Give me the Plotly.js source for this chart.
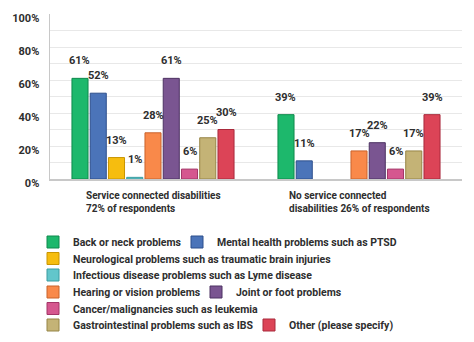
<!DOCTYPE html>
<html>
<head>
<meta charset="utf-8">
<script src="https://cdn.plot.ly/plotly-3.0.1.min.js"></script>
<style>html,body{margin:0;padding:0;background:#fff;}#chart{width:474px;height:342px;}</style>
</head>
<body>
<div id="chart"></div>
<script>
// ---- data ----
const categories = ["Service connected disabilities<br>72% of respondents", "No service connected<br>disabilities 26% of respondents"];
const seriesNames = [
  "Back or neck problems",
  "Mental health problems such as PTSD",
  "Neurological problems such as traumatic brain injuries",
  "Infectious disease problems such as Lyme disease",
  "Hearing or vision problems",
  "Joint or foot problems",
  "Cancer/malignancies such as leukemia",
  "Gastrointestinal problems such as IBS",
  "Other (please specify)"
];
const backNeck     = [61, 39];
const mentalHealth = [52, 11];
const neurological = [13, null];
const infectious   = [1, null];
const hearing      = [28, 17];
const jointFoot    = [61, 22];
const cancer       = [6, 6];
const gastro       = [25, 17];
const other        = [30, 39];
const seriesValues = [backNeck, mentalHealth, neurological, infectious, hearing, jointFoot, cancer, gastro, other];
const yTickVals = [0, 20, 40, 60, 80, 100];
const yTickText = ["0%", "20%", "40%", "60%", "80%", "100%"];

// ---- styles ----
const fills = ["#1db86c", "#4b74b9", "#f6bd0f", "#62c6cb", "#f9894a", "#7a5591", "#d5578f", "#c4b376", "#dc4457"];
const lines = ["#0f8a4c", "#2d4f8c", "#c99500", "#3a9ca1", "#c9622b", "#4d3263", "#a33567", "#968546", "#a92a3c"];
const legendRow = [1, 1, 2, 3, 4, 4, 5, 6, 6];
const legendEntryW = [99, null, null, null, 118, null, null, 171, null];
const FONT = "Roboto, sans-serif";
const TXT = "#2e2e2e";
const pitch = 0.0886, barW = 0.078;
const nS = seriesValues.length;

const xs = categories.map((c, i) => i);
const traces = [];
const annotations = [];
seriesValues.forEach((vals, s) => {
  const off = -nS * pitch / 2 + s * pitch + (pitch - barW) / 2;
  const lg = legendRow[s] === 1 ? "legend" : "legend" + legendRow[s];
  const t = {
    type: "bar", name: seriesNames[s], x: xs, y: vals,
    offset: off, width: barW,
    marker: {color: fills[s], line: {color: lines[s], width: 1}},
    legend: lg, hoverinfo: "none"
  };
  if (legendEntryW[s]) t.legendwidth = legendEntryW[s];
  traces.push(t);
  vals.forEach((v, i) => {
    if (v === null) return;
    annotations.push({
      x: i + off + barW / 2, y: v, xref: "x", yref: "y",
      text: v + "%", showarrow: false, yanchor: "bottom", yshift: 9,
      font: {family: FONT, size: 11, color: TXT, weight: 700}
    });
  });
});
categories.forEach((c, i) => {
  annotations.push({
    x: i, y: 0, xref: "x", yref: "y", text: c, showarrow: false,
    yanchor: "top", yshift: -9, align: "left",
    font: {family: FONT, size: 10, color: TXT, weight: 700}
  });
});

const plotTop = 14, plotBottom = 179, plotH = plotBottom - plotTop;
const rowCenters = [242, 258.5, 275, 292, 308.5, 325];
const layout = {
  width: 474, height: 342,
  margin: {l: 50, r: 12, t: plotTop, b: 342 - plotBottom, pad: 0, autoexpand: false},
  paper_bgcolor: "#fff", plot_bgcolor: "#fff",
  showlegend: true,
  xaxis: {range: [-0.5, 1.5], showticklabels: false, ticks: "", showgrid: false, zeroline: false,
          showline: true, linecolor: "#c8c8c8", linewidth: 1.5, fixedrange: true},
  yaxis: {range: [0, 100], tickvals: yTickVals, ticktext: yTickText, showgrid: true, gridcolor: "#e8e8e8",
          minor: {dtick: 10, showgrid: true, gridcolor: "#e8e8e8", tick0: 0},
          zeroline: false, showline: true, linecolor: "#c8c8c8", linewidth: 1.5, ticks: "",
          ticklabelstandoff: 7, ticklabelshift: 4,
          tickfont: {family: FONT, size: 11, color: TXT, weight: 700}},
  annotations: annotations
};
rowCenters.forEach((yc, r) => {
  const key = r === 0 ? "legend" : "legend" + (r + 1);
  layout[key] = {
    orientation: "h", x: (33 - 50) / 412, xanchor: "left",
    y: (plotBottom - yc) / plotH, yanchor: "middle",
    font: {family: FONT, size: 10.5, color: TXT, weight: 700},
    bgcolor: "rgba(0,0,0,0)", borderwidth: 0, tracegroupgap: 0, itemclick: false
  };
});

Plotly.newPlot("chart", traces, layout, {displayModeBar: false, staticPlot: true});
</script>
</body>
</html>
